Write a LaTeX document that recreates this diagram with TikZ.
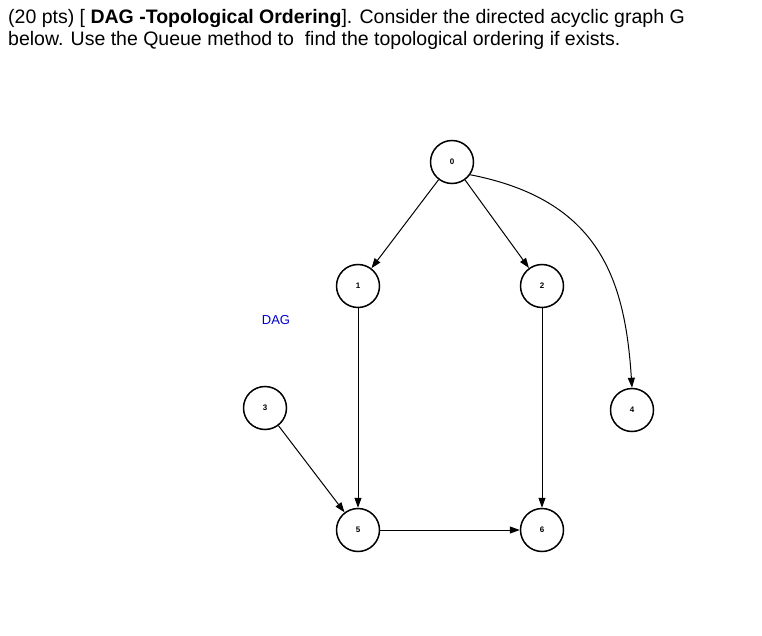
\documentclass[tikz,border=0pt]{standalone}
\usepackage{fontspec}
\setmainfont{Liberation Sans}
\usetikzlibrary{arrows.meta}
\begin{document}
\begin{tikzpicture}[x=1pt,y=-1pt,
  vert/.style={circle,draw,line width=1.5pt,minimum size=43pt,inner sep=0pt,font=\bfseries\fontsize{8}{9}\selectfont},
  edge/.style={draw,line width=1pt,-{Triangle[length=10pt,width=7pt]}}]
\useasboundingbox (0,0) rectangle (762,636);
\node[anchor=base west,font=\fontsize{19.5}{22}\selectfont,inner sep=0pt] (t1) at (8,24) {(20 pts) [ \textbf{DAG -Topological Ordering}]. Consider the directed acyclic graph G};
\node[anchor=base west,font=\fontsize{19.5}{22}\selectfont,inner sep=0pt] (t2) at (8,46) {below. Use the Queue method to\ \ find the topological ordering if exists.};
\node[vert] (n0) at (452,162) {0};
\node[vert] (n1) at (358,286) {1};
\node[vert] (n2) at (542,286) {2};
\node[vert] (n3) at (265,408) {3};
\node[vert] (n4) at (632,410) {4};
\node[vert] (n5) at (358,530) {5};
\node[vert] (n6) at (542,530) {6};
\node[text=blue!80!black,font=\fontsize{13}{14}\selectfont] (dag) at (276,320) {DAG};
\draw[edge] (n0) -- (n1);
\draw[edge] (n0) -- (n2);
\draw[edge] (n0.-35) .. controls (600,200) and (625,280) .. (n4.north);
\draw[edge] (n1) -- (n5);
\draw[edge] (n2) -- (n6);
\draw[edge] (n3) -- (n5);
\draw[edge] (n5) -- (n6);
\end{tikzpicture}
\end{document}
